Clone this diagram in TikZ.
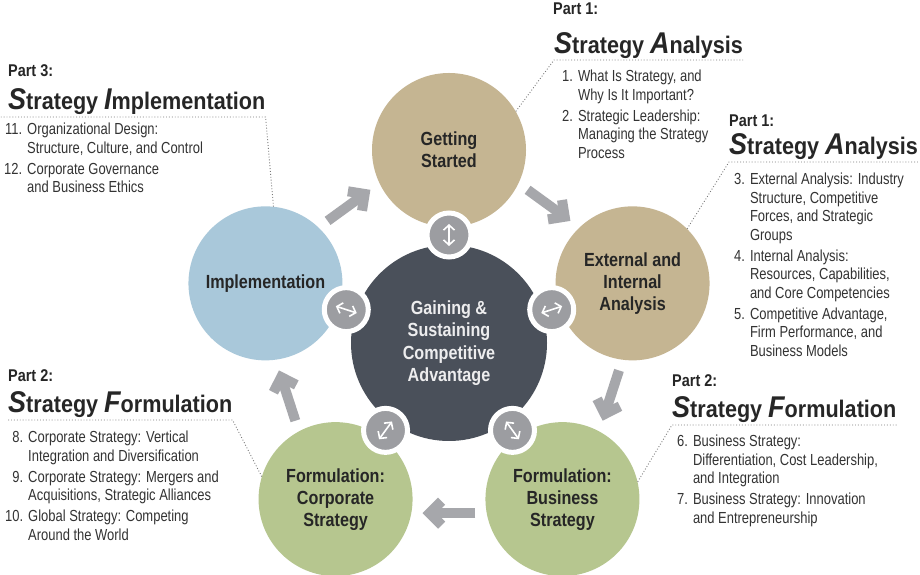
\documentclass[tikz,border=0pt]{standalone}
\usepackage{fontspec}
\setmainfont{Liberation Sans}[FakeStretch=0.81]
\newfontfamily\headfont{Liberation Sans}[FakeStretch=0.85]
\newfontfamily\titlefont{Liberation Sans}[FakeStretch=0.9]
\usetikzlibrary{arrows.meta,shapes}

\definecolor{sand}{HTML}{C5B592}
\definecolor{sage}{HTML}{B6C68F}
\definecolor{sky}{HTML}{A9C8DA}
\definecolor{slate}{HTML}{4A505A}
\definecolor{pebble}{HTML}{9C9DA1}
\definecolor{arrowgray}{HTML}{A6A7AB}
\definecolor{ink}{HTML}{262626}
\definecolor{bodytext}{HTML}{333333}
\definecolor{leadgray}{HTML}{7A7A7A}

\newcommand\initial[1]{{\fontsize{30}{30}\selectfont\itshape #1}}

\begin{document}
\begin{tikzpicture}[x=1pt,y=1pt,
    flow/.style={draw=arrowgray,line width=10pt,shorten <=87pt,shorten >=87pt,
      -{Straight Barb[sharp,length=12pt,width=24pt]}},
    swap/.style={draw=white,line width=1.6pt,
      {Straight Barb[length=5pt,width=11pt]}-{Straight Barb[length=5pt,width=11pt]}}]
  \tikzstyle{stage}=[circle,minimum size=154pt,inner sep=0pt,align=center,text=ink,
    font=\headfont\bfseries\fontsize{19}{22}\selectfont]
  \tikzstyle{hub}=[circle,minimum size=44pt,inner sep=0pt,fill=pebble,draw=white,line width=5pt]
  \tikzstyle{part}=[anchor=base west,inner sep=0pt,text=ink,font=\headfont\bfseries\fontsize{17}{20}\selectfont]
  \tikzstyle{title}=[anchor=base west,inner sep=0pt,text=ink,font=\titlefont\bfseries\fontsize{24}{26}\selectfont]
  \tikzstyle{list}=[anchor=base west,inner sep=0pt,text=bodytext,font=\fontsize{16}{18.5}\selectfont]
  \tikzstyle{leader}=[draw=leadgray,line width=0.9pt,dotted]

  \fill[white] (0,0) rectangle (920,575);
  \useasboundingbox (0,0) rectangle (920,575);

  % the cycle
  \node[circle,minimum size=196pt,inner sep=0pt,fill=slate,text=white!90!slate,align=center,
    font=\headfont\bfseries\fontsize{19}{22.5}\selectfont] (core) at (449,232)
    {Gaining \&\\Sustaining\\Competitive\\Advantage};
  \node[stage,fill=sand] (gs)   at ([shift={(90:193)}]core)   {Getting\\Started};
  \node[stage,fill=sand] (ext)  at ([shift={(18:193)}]core)   {External and\\Internal\\Analysis};
  \node[stage,fill=sage] (bus)  at ([shift={(-54:193)}]core)  {Formulation:\\Business\\Strategy};
  \node[stage,fill=sage] (corp) at ([shift={(-126:193)}]core) {Formulation:\\Corporate\\Strategy};
  \node[stage,fill=sky]  (impl) at ([shift={(162:193)}]core)  {Implementation};

  \foreach \a/\b/\ang in {gs/ext/54, ext/bus/-18, bus/corp/-90, corp/impl/-162, impl/gs/126}
    \draw[flow] ([shift={(\ang:14)}]\a.center) -- ([shift={(\ang:14)}]\b.center);

  \foreach \ang [count=\i] in {90,18,-54,-126,162} {
    \node[hub] (s\i) at ([shift={(\ang:108)}]core) {};
    \draw[swap] ([shift={(\ang:-11)}]s\i.center) -- ([shift={(\ang:11)}]s\i.center);
  }

  % Part 1, top
  \node[part] (p1) at (553,560) {Part 1:};
  \node[title] (t1) at (554,521) {\initial{S}trategy \initial{A}nalysis};
  \node[list] (l1) at (562,493) {\begin{tabular}[t]{@{}r@{\hspace{5pt}}l@{}}
    1. & What Is Strategy, and\\ & Why Is It Important?\\[2.5pt]
    2. & Strategic Leadership:\\ & Managing the Strategy\\ & Process\end{tabular}};
  \draw[leader] (gs.30) -- ([yshift=-6pt]t1.base west) -- ([yshift=-6pt]t1.base east);

  % Part 1, right
  \node[part] (p2) at (729,448) {Part 1:};
  \node[title] (t2) at (729,420) {\initial{S}trategy \initial{A}nalysis};
  \node[list] (l2) at (734,390) {\begin{tabular}[t]{@{}r@{\hspace{5pt}}l@{}}
    3. & External Analysis: Industry\\ & Structure, Competitive\\ & Forces, and Strategic\\ & Groups\\[2.5pt]
    4. & Internal Analysis:\\ & Resources, Capabilities,\\ & and Core Competencies\\[2.5pt]
    5. & Competitive Advantage,\\ & Firm Performance, and\\ & Business Models\end{tabular}};
  \draw[leader] (ext.45) -- ([yshift=-7pt]t2.base west) -- ([yshift=-7pt]t2.base east);

  % Part 2, right
  \node[part] (p3) at (672,188) {Part 2:};
  \node[title] (t3) at (672,157) {\initial{S}trategy \initial{F}ormulation};
  \node[list] (l3) at (677,128) {\begin{tabular}[t]{@{}r@{\hspace{5pt}}l@{}}
    6. & Business Strategy:\\ & Differentiation, Cost Leadership,\\ & and Integration\\[2.5pt]
    7. & Business Strategy: Innovation\\ & and Entrepreneurship\end{tabular}};
  \draw[leader] (bus.13) -- ([yshift=-7pt]t3.base west) -- ([yshift=-7pt]t3.base east);

  % Part 2, left
  \node[part] (p4) at (8,193) {Part 2:};
  \node[title] (t4) at (8,162) {\initial{S}trategy \initial{F}ormulation};
  \node[list] (l4) at (5,132) {\begin{tabular}[t]{@{}r@{\hspace{5pt}}l@{}}
    8. & Corporate Strategy: Vertical\\ & Integration and Diversification\\[2.5pt]
    9. & Corporate Strategy: Mergers and\\ & Acquisitions, Strategic Alliances\\[2.5pt]
    10. & Global Strategy: Competing\\ & Around the World\end{tabular}};
  \draw[leader] (corp.163) -- ([yshift=-7pt]t4.base east) -- ([yshift=-7pt]t4.base west);

  % Part 3, left
  \node[part] (p5) at (8,498) {Part 3:};
  \node[title] (t5) at (8,465) {\initial{S}trategy \initial{I}mplementation};
  \node[list] (l5) at (4,440) {\begin{tabular}[t]{@{}r@{\hspace{5pt}}l@{}}
    11. & Organizational Design:\\ & Structure, Culture, and Control\\[2.5pt]
    12. & Corporate Governance\\ & and Business Ethics\end{tabular}};
  \draw[leader] (impl.84) -- ([yshift=-7pt]t5.base east) -- ([yshift=-7pt,xshift=-8pt]t5.base west);
\end{tikzpicture}
\end{document}
